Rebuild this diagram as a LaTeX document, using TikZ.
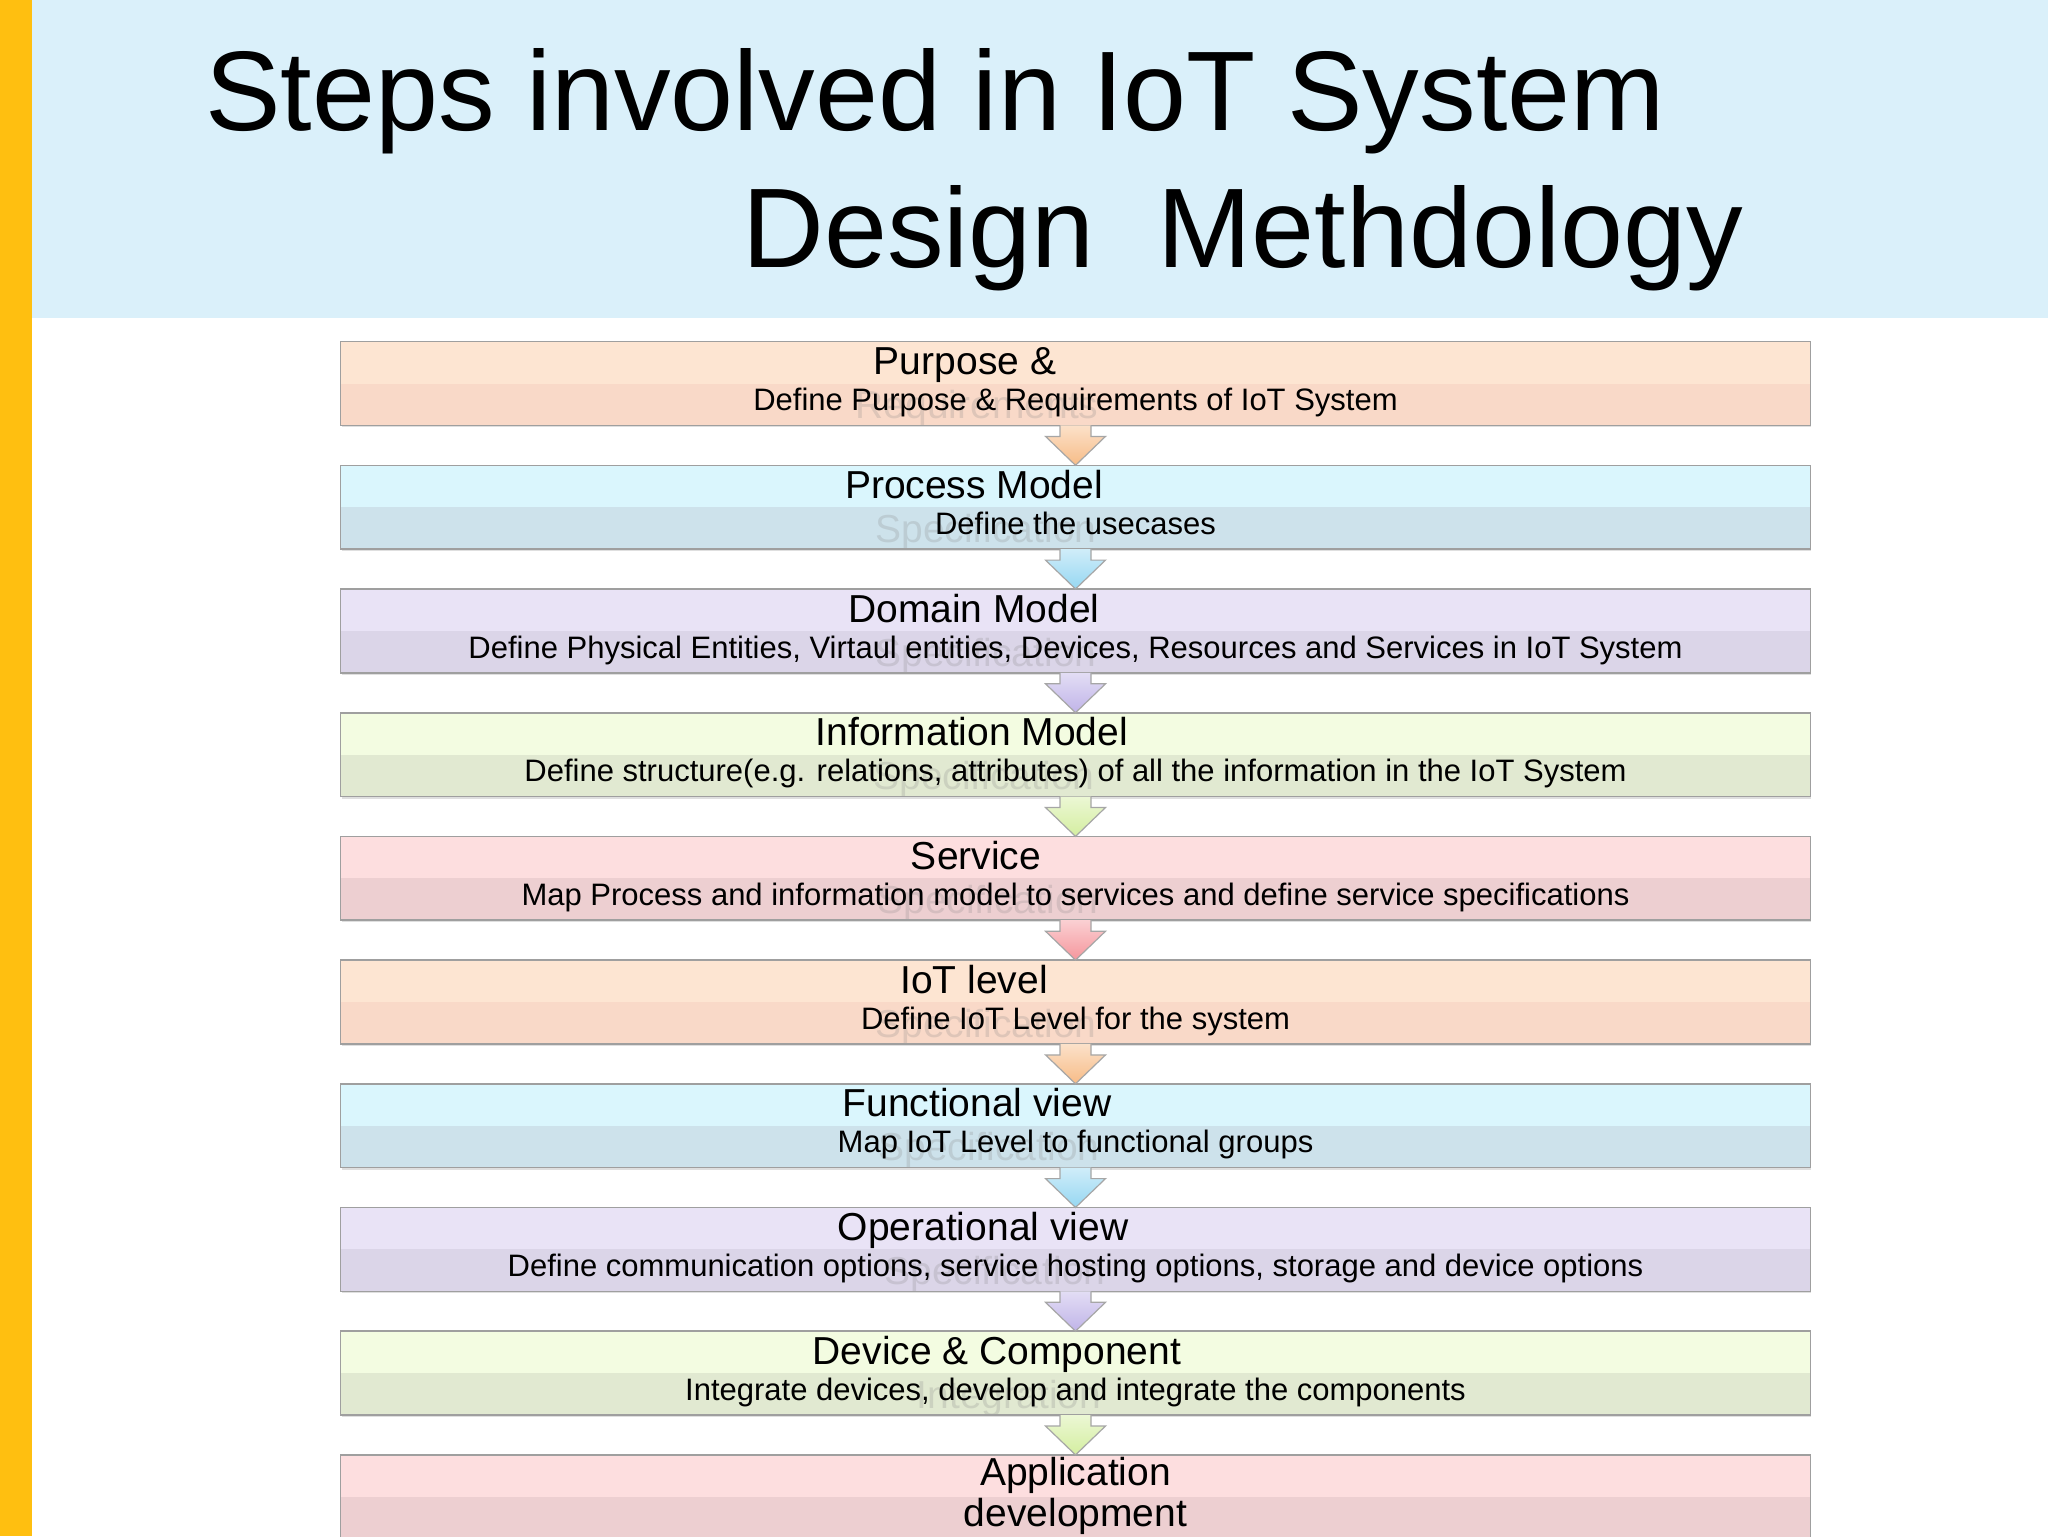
\documentclass[tikz,border=0pt]{standalone}
\usepackage{fontspec}
\setmainfont{Liberation Sans}
\usetikzlibrary{calc,shadows}
\definecolor{barY}{RGB}{255,191,16}
\definecolor{headB}{RGB}{218,240,250}
\definecolor{orT}{RGB}{253,229,210}
\definecolor{orB}{RGB}{249,217,200}
\definecolor{orA}{RGB}{247,188,135}
\definecolor{blT}{RGB}{218,246,253}
\definecolor{blB}{RGB}{205,226,235}
\definecolor{blA}{RGB}{150,215,242}
\definecolor{puT}{RGB}{233,227,246}
\definecolor{puB}{RGB}{219,213,232}
\definecolor{puA}{RGB}{192,180,232}
\definecolor{grT}{RGB}{243,252,225}
\definecolor{grB}{RGB}{225,233,209}
\definecolor{grA}{RGB}{212,238,160}
\definecolor{piT}{RGB}{253,222,223}
\definecolor{piB}{RGB}{237,207,209}
\definecolor{piA}{RGB}{245,150,156}
\tikzset{
  stepbox/.style={rectangle, inner sep=0pt, minimum width=734.5pt, minimum height=41.5pt,
    drop shadow={opacity=0.25, shadow xshift=0.6pt, shadow yshift=-1.2pt}},
  boxline/.style={draw=gray!75, line width=0.8pt},
  steptitle/.style={anchor=base, inner sep=0pt, font=\fontsize{19.5}{22}\selectfont},
  stepdesc/.style={anchor=base, inner sep=0pt, font=\fontsize{15.5}{18}\selectfont},
  ghosttext/.style={anchor=base, inner sep=0pt, font=\fontsize{19.5}{22}\selectfont, text=gray, opacity=0.22},
  flowarrow/.style={draw=gray!70, line width=0.6pt, line join=miter},
  headtitle/.style={anchor=base west, inner sep=0pt, font=\fontsize{56.6}{62}\selectfont}
}
% name, top y, colour prefix, title x, title, description, ghost word
\newcommand\iotstep[7]{%
  \node[stepbox, fill=#3T] (#1) at (1075.5,#2+41.5) {};
  \fill[#3B] (#1.west) rectangle (#1.south east);
  \begin{scope}
    \clip (#1.south west) rectangle (#1.north east);
    \node[ghosttext] (#1g) at ($(#1.north)+(#4-1075.5+12,77)$) {#7};
  \end{scope}
  \draw[boxline] (#1.south west) rectangle (#1.north east);
  \node[steptitle] (#1t) at ($(#1.north)+(#4-1075.5,33)$) {#5};
  \node[stepdesc] (#1d) at ($(#1.north)+(0,69)$) {#6};
}
% from box, to box, colour
\newcommand\iotarrow[3]{%
  \draw[flowarrow, top color=#3!45!white, bottom color=#3]
    ($(#1.south)+(-15.5,0)$) -- ($(#1.south)+(-15.5,11)$) -- ($(#1.south)+(-30,11)$)
    -- (#2.north) -- ($(#1.south)+(30,11)$) -- ($(#1.south)+(15.5,11)$) -- ($(#1.south)+(15.5,0)$);
}
\begin{document}
\begin{tikzpicture}[x=0.5pt, y=-0.5pt]
\useasboundingbox (0,0) rectangle (2048,1536);
\fill[white] (0,0) rectangle (2048,1536);
\fill[headB] (32,0) rectangle (2048,318);
\fill[barY] (0,0) rectangle (32,1536);
\node[headtitle] (title1) at (205,131) {Steps involved in IoT System};
\node[headtitle] (title2) at (742,267) {Design\ \ Methdology};

\iotstep{b1}{342}{or}{965}{Purpose \&}{Define Purpose \& Requirements of IoT System}{Requirements}
\iotstep{b2}{465.7}{bl}{974}{Process Model}{Define the usecases}{Specification}
\iotstep{b3}{589.4}{pu}{974}{Domain Model}{Define Physical Entities, Virtaul entities, Devices, Resources and Services in IoT System}{Specification}
\iotstep{b4}{713.1}{gr}{972}{Information Model}{Define structure(e.g. relations, attributes) of all the information in the IoT System}{Specification}
\iotstep{b5}{836.8}{pi}{976}{Service}{Map Process and information model to services and define service specifications}{Specification}
\iotstep{b6}{960.5}{or}{974}{IoT level}{Define IoT Level for the system}{Specification}
\iotstep{b7}{1084.2}{bl}{977}{Functional view}{Map IoT Level to functional groups}{Specification}
\iotstep{b8}{1207.9}{pu}{983}{Operational view}{Define communication options, service hosting options, storage and device options}{Specification}
\iotstep{b9}{1331.6}{gr}{997}{Device \& Component}{Integrate devices, develop and integrate the components}{Integration}

\node[stepbox, fill=piT] (b10) at (1075.5,1496.8) {};
\fill[piB] (b10.west) rectangle (b10.south east);
\draw[boxline] (b10.south west) rectangle (b10.north east);
\node[steptitle] (b10t) at ($(b10.north)+(0,31)$) {Application};
\node[steptitle] (b10d) at ($(b10.north)+(0,72)$) {development};

\iotarrow{b1}{b2}{orA}
\iotarrow{b2}{b3}{blA}
\iotarrow{b3}{b4}{puA}
\iotarrow{b4}{b5}{grA}
\iotarrow{b5}{b6}{piA}
\iotarrow{b6}{b7}{orA}
\iotarrow{b7}{b8}{blA}
\iotarrow{b8}{b9}{puA}
\iotarrow{b9}{b10}{grA}
\end{tikzpicture}
\end{document}
